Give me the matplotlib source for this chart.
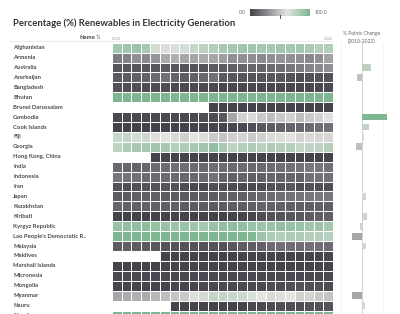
import numpy as np
import matplotlib
matplotlib.use("Agg")
import matplotlib.pyplot as plt
from matplotlib.colors import LinearSegmentedColormap, TwoSlopeNorm

nan = np.nan
years = list(range(2000, 2023))
countries = ["Afghanistan", "Armenia", "Australia", "Azerbaijan", "Bangladesh", "Bhutan",
             "Brunei Darussalam", "Cambodia", "Cook Islands", "Fiji", "Georgia",
             "Hong Kong, China", "India", "Indonesia", "Iran", "Japan", "Kazakhstan",
             "Kiribati", "Kyrgyz Republic", "Lao People's Democratic R..", "Malaysia",
             "Maldives", "Marshall Islands", "Micronesia", "Mongolia", "Myanmar", "Nauru",
             "Nepal"]

afghanistan = [85, 86, 88, 84, 67, 65, 66, 67, 72, 76, 80, 84, 85, 86, 86, 85, 84, 86, 85, 85, 83, 80, 80]
armenia = [22, 25, 30, 28, 32, 40, 42, 38, 38, 40, 38, 35, 30, 30, 30, 28, 30, 32, 30, 30, 27, 30, 37]
australia = [8, 8, 8, 8, 8, 9, 8, 7, 7, 7, 9, 10, 11, 13, 14, 14, 16, 17, 20, 23, 26, 28, 30]
azerbaijan = [9, 10, 12, 12, 16, 18, 13, 10, 12, 15, 18, 9, 8, 7, 7, 7, 8, 8, 6, 5, 6, 7, 6]
bangladesh = [6, 5, 5, 4, 4, 4, 3, 3, 3, 3, 3, 2, 2, 2, 2, 2, 2, 2, 2, 2, 2, 2, 3]
bhutan = [100] * 23
brunei = [nan] * 10 + [0] * 13
cambodia = [3, 3, 3, 3, 3, 3, 3, 3, 3, 4, 4, 8, 38, 55, 58, 52, 48, 52, 55, 48, 52, 55, 64]
cook_islands = [0, 0, 0, 0, 0, 0, 0, 0, 0, 0, 1, 1, 2, 3, 5, 8, 10, 12, 13, 14, 16, 17, 18]
fiji = [72, 74, 68, 70, 60, 62, 58, 55, 62, 66, 52, 50, 54, 56, 52, 54, 58, 60, 62, 56, 58, 57, 57]
georgia = [76, 82, 84, 85, 86, 85, 80, 82, 84, 86, 92, 84, 76, 80, 82, 78, 82, 80, 80, 74, 75, 76, 79]
hong_kong = [nan] * 4 + [0] * 19
india = [15, 14, 13, 14, 16, 16, 17, 17, 16, 15, 17, 16, 15, 16, 15, 15, 16, 17, 18, 19, 21, 20, 18]
indonesia = [20, 19, 18, 16, 16, 16, 15, 14, 15, 16, 18, 13, 12, 13, 11, 12, 14, 13, 14, 13, 18, 19, 18]
iran = [6, 5, 6, 7, 6, 7, 6, 4, 2, 3, 5, 5, 4, 3, 3, 4, 6, 7, 8, 5, 6, 5, 5]
japan = [10, 10, 11, 11, 11, 10, 10, 9, 9, 10, 10, 11, 12, 12, 13, 15, 16, 17, 18, 19, 20, 21, 20]
kazakhstan = [14, 12, 12, 12, 12, 11, 11, 10, 10, 10, 10, 10, 10, 10, 11, 13, 12, 12, 11, 11, 11, 12, 11]
kiribati = [0] * 11 + [0, 1, 1, 2, 4, 6, 7, 8, 9, 10, 11, 11]
kyrgyz = [90, 92, 92, 93, 91, 90, 88, 90, 87, 85, 90, 92, 93, 92, 90, 88, 90, 92, 90, 90, 86, 88, 85]
lao = [99, 99, 99, 99, 99, 99, 99, 99, 99, 99, 99, 99, 99, 99, 98, 88, 82, 80, 82, 82, 80, 80, 78]
malaysia = [10, 11, 10, 9, 8, 7, 7, 6, 6, 6, 6, 6, 8, 10, 11, 12, 16, 17, 17, 17, 18, 17, 16]
maldives = [nan] * 5 + [0, 0, 0, 0, 0, 0, 0, 0, 0.5, 1, 1, 1, 1, 1, 1, 1, 1, 1.5]
marshall = [0] * 20 + [0.3, 0.4, 0.5]
micronesia = [3, 3, 3, 3, 3, 3, 2, 2, 2, 2, 2, 2, 2, 2, 2, 2, 2, 2, 3, 3, 3, 2.5, 2.5]
mongolia = [1, 1, 1, 1, 1, 1, 1, 1, 1, 2, 3, 3, 3, 3, 3, 3, 4, 4, 5, 6, 5, 5, 4]
myanmar = [38, 40, 42, 40, 45, 48, 50, 52, 60, 68, 74, 74, 72, 70, 66, 62, 58, 60, 62, 55, 56, 52, 50]
nauru = [nan] * 6 + [0] * 7 + [1, 2, 3, 4, 5, 5, 5, 6, 6, 7]
nepal = [99] * 23

# % points change 2010-2022
change_2010_2022 = [-1, -1, 21, -12, 0, 0, 0, 60, 17, 5.5, -13.5, 0, 1, 0, 0, 10, 1,
                    11, -5, -24, 10, 1, 0.5, 0.5, 0.5, -24, 7, 0]

rows = [afghanistan, armenia, australia, azerbaijan, bangladesh, bhutan, brunei, cambodia,
        cook_islands, fiji, georgia, hong_kong, india, indonesia, iran, japan, kazakhstan,
        kiribati, kyrgyz, lao, malaysia, maldives, marshall, micronesia, mongolia, myanmar,
        nauru, nepal]
Z = np.ma.masked_invalid(np.array(rows, dtype=float))

W, H = 400, 314
fig = plt.figure(figsize=(W / 100, H / 100), dpi=100)
fig.patch.set_facecolor("white")

def fx(px):
    return px / W

def fy(py):
    return 1 - py / H

cmap = LinearSegmentedColormap.from_list(
    "gg", [(0.0, "#45424b"), (0.62, "#e3e3e1"), (1.0, "#7db690")])

top_px = 42.7
row_px = 9.92
ybottom = -0.5 + (H - top_px) / row_px

ax = fig.add_axes([fx(112), 0, fx(333) - fx(112), fy(top_px)])
ax.pcolormesh(np.arange(len(years) + 1) - 0.5, np.arange(len(countries) + 1) - 0.5, Z,
              cmap=cmap, vmin=0, vmax=100, edgecolors="white", linewidth=0.65)
ax.set_xlim(-0.5, len(years) - 0.5)
ax.set_ylim(ybottom, -0.5)
ax.axis("off")

# country labels
for i, c in enumerate(countries):
    y = top_px + (i + 0.5) * row_px
    fig.text(fx(13), fy(y), c, fontsize=4.2, fontweight="bold", color="#4a4a4a",
             ha="left", va="center", family="Lato")

# header
fig.text(fx(79), fy(37.5), "Name", fontsize=4.2, fontweight="bold", color="#444444",
         ha="left", va="center", family="Lato")
fig.text(fx(96), fy(37.3), "⇅", fontsize=4, color="#888888", ha="left", va="center",
         family="DejaVu Sans")
fig.text(fx(112), fy(38.5), str(years[0]), fontsize=2.8, color="#9a9a9a", ha="left",
         va="center", family="Lato")
fig.text(fx(333), fy(38.5), str(years[-1]), fontsize=2.8, color="#9a9a9a", ha="right",
         va="center", family="Lato")
fig.add_artist(plt.Line2D([fx(10), fx(333)], [fy(41.3), fy(41.3)], color="#e4e4e4", lw=0.5))

# title
fig.text(fx(13), fy(23), "Percentage (%) Renewables in Electricity Generation",
         fontsize=6.8, fontweight="bold", color="#333333", ha="left", va="center",
         family="Lato")

# colour legend
cax = fig.add_axes([fx(250), fy(16), fx(60), 7 / H])
cax.imshow(np.linspace(0, 100, 256)[None, :], aspect="auto", cmap=cmap, vmin=0, vmax=100)
cax.axis("off")
fig.add_artist(plt.Line2D([fx(280), fx(280)], [fy(15), fy(17.5)], color="#333333", lw=0.6))
fig.text(fx(246), fy(12), "0.0", fontsize=3.6, color="#666666", ha="right", va="center",
         family="Lato")
fig.text(fx(315), fy(12), "100.0", fontsize=3.6, color="#666666", ha="left", va="center",
         family="Lato")

# change bars
bax = fig.add_axes([fx(338), 0, fx(62), fy(top_px)])
bnorm = TwoSlopeNorm(vmin=-50, vcenter=0, vmax=60)
bcmap = LinearSegmentedColormap.from_list("bc", ["#6a6a6a", "#dddddd", "#7fb890"])
ypos = np.arange(len(countries))
bax.barh(ypos, change_2010_2022, height=0.68, color=bcmap(bnorm(change_2010_2022)))
for g in (-50, 50):
    bax.axvline(g, color="#eeeeee", lw=0.5, zorder=0)
bax.axvline(0, color="#cccccc", lw=0.6, zorder=0)
bax.set_xlim(-57, 90)
bax.set_ylim(ybottom, -0.5)
bax.axis("off")
fig.text(fx(362), fy(33), "% Points Change", fontsize=3.6, color="#666666", ha="center",
         va="center", family="Lato")
fig.text(fx(362), fy(41), "(2010-2022)", fontsize=3.6, color="#666666", ha="center",
         va="center", family="Lato")

fig.savefig("out.png", dpi=100, facecolor="white")
